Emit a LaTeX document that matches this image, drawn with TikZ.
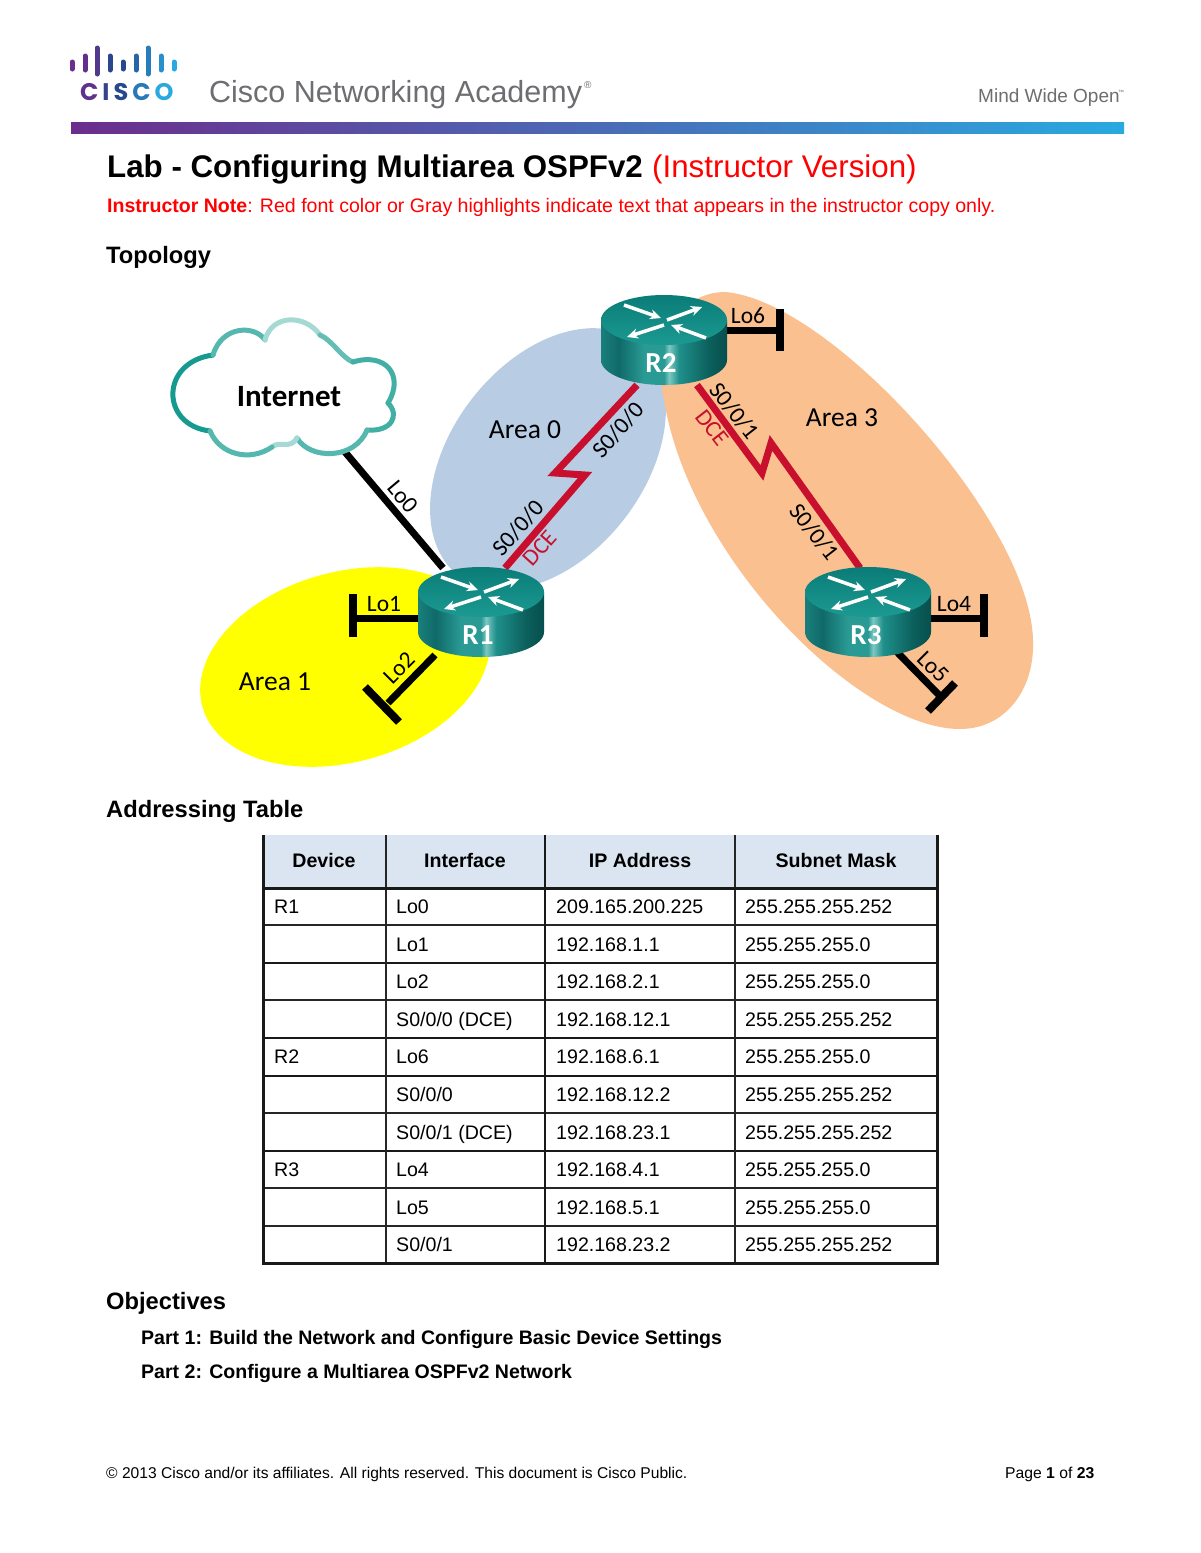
\documentclass[tikz,border=0pt]{standalone}
\usepackage{fontspec}
\setmainfont{Liberation Sans}
\newfontfamily\labelfont{Carlito}
\newfontfamily\logofont{Poppins}
\usetikzlibrary{backgrounds,arrows.meta}
\newcommand{\pxsize}[1]{\fontsize{#1}{#1}\selectfont}
\definecolor{areayellow}{HTML}{FFFF00}
\definecolor{areablue}{HTML}{B8CCE4}
\definecolor{areaorange}{HTML}{FAC090}
\definecolor{serialred}{HTML}{C8102E}
\definecolor{headfill}{HTML}{DBE5F1}
\definecolor{logogray}{HTML}{6D6E71}
\definecolor{barpurple}{HTML}{6C2D8C}
\definecolor{barblue}{HTML}{25488F}
\definecolor{barcyan}{HTML}{29A9E0}
\definecolor{cloudA}{HTML}{159A90}
\definecolor{cloudB}{HTML}{55B8AE}
\definecolor{cloudC}{HTML}{A5D9D3}
\definecolor{rtA}{HTML}{1A7F7C}
\definecolor{rtB}{HTML}{0F6A68}
\definecolor{rtC}{HTML}{2A9A94}
\definecolor{rtD}{HTML}{7CC7C1}
\definecolor{rtE}{HTML}{1F8F8A}
\definecolor{rtF}{HTML}{0B5F5C}
\definecolor{rtG}{HTML}{074F4E}
\definecolor{rtTop}{HTML}{0B7C78}
\definecolor{rtLow}{HTML}{1B9A92}
\pgfdeclarehorizontalshading{routerside}{100bp}{color(0bp)=(rtA);
  color(25bp)=(rtA);color(32bp)=(rtB);color(42bp)=(rtC);color(50bp)=(rtC);
  color(52bp)=(rtD);color(56bp)=(rtE);color(68bp)=(rtF);color(75bp)=(rtG);color(100bp)=(rtG)}
\tikzset{
  every node/.style={inner sep=0pt},
  body/.style={anchor=base west,font=\pxsize{19.6}},
  head/.style={anchor=base,font=\pxsize{19.6}\bfseries},
  section/.style={anchor=base west,font=\pxsize{23.7}\bfseries},
  plabel/.style={font=\labelfont\pxsize{23.5},black},
  arealabel/.style={font=\labelfont\pxsize{27.5}},
  routername/.style={font=\labelfont\pxsize{29}\bfseries,white},
  serial/.style={line width=7pt,serialred,miter limit=10},
  loop/.style={line width=7pt,black},
  loopcap/.style={line width=8pt,black},
  grid/.style={line width=1.5pt,black!85},
  gridheavy/.style={line width=2.6pt,black!90},
  logobar/.style={line width=5pt,line cap=round},
  cloudline/.style={line width=5pt,line cap=round},
  routerarrow/.style={white,line width=3.5pt,-{Stealth[length=11pt,width=10pt]}},
}
\begin{document}
\begin{tikzpicture}[x=1pt,y=-1pt]
\def\routerbody(#1,#2){
  \shade[shading=routerside] (#1-63,#2-42) -- (#1-63,#2-2) arc[start angle=180,end angle=360,x radius=63,y radius=-25] -- (#1+63,#2-42) -- cycle;
  \shade[top color=rtTop,bottom color=rtLow] (#1,#2-42) circle[x radius=63,y radius=25];
  \draw[routerarrow] (#1-40,#2-57) -- (#1-3,#2-44);
  \draw[routerarrow] (#1,#2-37) -- (#1-37,#2-25);
  \draw[routerarrow] (#1+3,#2-42) -- (#1+38,#2-55);
  \draw[routerarrow] (#1+42,#2-24) -- (#1+7,#2-37);
}
\useasboundingbox (0,0) rectangle (1200,1553);
% logo
\draw[logobar,barpurple] (72,62) -- (72,69);
\draw[logobar,barpurple!85!barblue] (85,56) -- (85,70);
\draw[logobar,barpurple!60!barblue] (97,48) -- (97,74);
\draw[logobar,barblue!90!barpurple] (110,56) -- (110,70);
\draw[logobar,barblue] (123,62) -- (123,69);
\draw[logobar,barblue!70!barcyan] (136,56) -- (136,70);
\draw[logobar,barblue!45!barcyan] (148,48) -- (148,74);
\draw[logobar,barblue!25!barcyan] (161,56) -- (161,70);
\draw[logobar,barcyan] (174,62) -- (174,69);
\node[anchor=base west,font=\logofont\pxsize{24}\bfseries] (cisco) at (80,100)
  {\textcolor{barpurple!80!barblue}{C}\hspace{4pt}\textcolor{barblue!80!barpurple}{I}\hspace{4pt}\textcolor{barblue}{S}\hspace{4pt}\textcolor{barblue!50!barcyan}{C}\hspace{4pt}\textcolor{barcyan}{O}};
\node[anchor=base west,font=\pxsize{30.5},logogray] (academy) at (209,102) {Cisco Networking Academy};
\node[anchor=base west,font=\pxsize{10},logogray] (reg) at (584,88) {®};
\node[anchor=base west,font=\pxsize{19},logogray] (mind) at (978,102) {Mind Wide Open};
\node[anchor=base west,font=\pxsize{6},logogray] (tm) at (1118,94) {™};
\shade[left color=barpurple,middle color=barblue,right color=barcyan] (71,122) rectangle (1124,133);
% headings
\node[anchor=base west,font=\pxsize{31.3}\bfseries] (title) at (107,177) {Lab - Configuring Multiarea OSPFv2};
\node[anchor=base west,font=\pxsize{31.3},red] (version) at (652,177) {(Instructor Version)};
\node[body,red,font=\pxsize{19.55}] (note) at (107,212) {\textbf{Instructor Note}: Red font color or Gray highlights indicate text that appears in the instructor copy only.};
\node[section] (topology) at (106,263) {Topology};
\node[section] (addressing) at (106,817) {Addressing Table};
\node[section] (objectives) at (106,1309) {Objectives};
\node[body,font=\pxsize{19.55}\bfseries] (part1) at (141,1344) {Part 1: Build the Network and Configure Basic Device Settings};
\node[body,font=\pxsize{19.55}\bfseries] (part2) at (141,1378) {Part 2: Configure a Multiarea OSPFv2 Network};
\node[body,font=\pxsize{15.6}] (copyright) at (106,1478) {© 2013 Cisco and/or its affiliates. All rights reserved. This document is Cisco Public.};
\node[body,font=\pxsize{15.7}] (page) at (1005,1478) {Page \textbf{1} of \textbf{23}};
% routers
\routerbody(481,634)
\routerbody(664,362)
\routerbody(868,634)
\node[routername] (R1) at (478,635) {R1};
\node[routername] (R2) at (661,363) {R2};
\node[routername] (R3) at (866,635) {R3};
% cloud
\coordinate (c1) at (210,431);
\coordinate (c2) at (213,355);
\coordinate (c3) at (265,340);
\coordinate (c4) at (320,335);
\coordinate (c5) at (353,362);
\coordinate (c6) at (388,403);
\coordinate (c7) at (367,430);
\coordinate (c8) at (297,438);
\coordinate (c9) at (272,447);
\fill[white] (c1) .. controls (160,425) and (160,362) .. (c2) .. controls (222,325) and (255,325) .. (c3)
  .. controls (272,314) and (305,314) .. (c4) .. controls (332,340) and (342,358) .. (c5)
  .. controls (385,352) and (405,375) .. (c6) .. controls (400,415) and (392,432) .. (c7)
  .. controls (355,460) and (310,460) .. (c8) .. controls (290,450) and (280,440) .. (c9)
  .. controls (250,462) and (220,455) .. (c1);
\draw[cloudline,cloudA] (c1) .. controls (160,425) and (160,362) .. (c2);
\draw[cloudline,cloudB] (c2) .. controls (222,325) and (255,325) .. (c3);
\draw[cloudline,cloudC] (c3) .. controls (272,314) and (305,314) .. (c4);
\draw[cloudline,cloudB!80!cloudC] (c4) .. controls (332,340) and (342,358) .. (c5);
\draw[cloudline,cloudB!70!cloudA] (c5) .. controls (385,352) and (405,375) .. (c6);
\draw[cloudline,cloudB!70!cloudA] (c6) .. controls (400,415) and (392,432) .. (c7);
\draw[cloudline,cloudB] (c7) .. controls (355,460) and (310,460) .. (c8);
\draw[cloudline,cloudC] (c8) .. controls (290,450) and (280,440) .. (c9);
\draw[cloudline,cloudB] (c9) .. controls (250,462) and (220,455) .. (c1);
\node[font=\labelfont\pxsize{31}\bfseries] (Internet) at (289,397) {Internet};
% areas and links
\coordinate (k1) at (585,475);
\coordinate (k2) at (555,473);
\coordinate (k3) at (762,473);
\coordinate (k4) at (771,443);
\coordinate (lo1) at (353,618);
\coordinate (lo1a) at (353,594);
\coordinate (lo1b) at (353,637);
\coordinate (lo2) at (388,703);
\coordinate (lo2a) at (365,687);
\coordinate (lo2b) at (399,722);
\coordinate (lo4) at (984,618);
\coordinate (lo4a) at (984,594);
\coordinate (lo4b) at (984,637);
\coordinate (lo5) at (941,697);
\coordinate (lo5a) at (955,683);
\coordinate (lo5b) at (928,711);
\coordinate (lo6) at (780,330);
\coordinate (lo6a) at (780,309);
\coordinate (lo6b) at (780,351);
\begin{scope}[on background layer]
\fill[white] (0,0) rectangle (1200,1553);
\fill[areayellow,rotate around={15.6:(345,667)}] (345,667) circle[x radius=148,y radius=95];
\fill[areablue,rotate around={52.6:(548,459)}] (548,459) circle[x radius=147,y radius=97];
\fill[areaorange] (725,292) .. controls (830,300) and (1030,520) .. (1033,640) .. controls (1035,690) and (1005,729) .. (960,729)
  .. controls (860,729) and (690,560) .. (664,400) .. controls (650,340) and (680,292) .. (725,292);
\draw[loop] ([shift={(56,55)}]Internet.center) -- ([shift={(-35,-67)}]R1.center);
\draw[loop] (lo1 -| R1) -- (lo1);
\draw[loopcap] (lo1a) -- (lo1b);
\draw[loop] ([shift={(-43,20)}]R1.center) -- (lo2);
\draw[loopcap] (lo2a) -- (lo2b);
\draw[loop] (lo4 -| R3) -- (lo4);
\draw[loopcap] (lo4a) -- (lo4b);
\draw[loop] ([shift={(30,16)}]R3.center) -- (lo5);
\draw[loopcap] (lo5a) -- (lo5b);
\draw[loop] (lo6 -| R2) -- (lo6);
\draw[loopcap] (lo6a) -- (lo6b);
\draw[serial] ([shift={(27,-67)}]R1.center) -- (k1) -- (k2) -- ([shift={(-24,22)}]R2.center);
\draw[serial] ([shift={(36,22)}]R2.center) -- (k3) -- (k4) -- ([shift={(-6,-67)}]R3.center);
\end{scope}
% labels
\node[arealabel] (area0) at (525,430) {Area 0};
\node[arealabel] (area1) at (275,682) {Area 1};
\node[arealabel] (area3) at (842,418) {Area 3};
\node[plabel,rotate=-50] (lo0label) at (403,497) {Lo0};
\node[plabel] (lo1label) at (384,604) {Lo1};
\node[plabel,rotate=45] (lo2label) at (399,668) {Lo2};
\node[plabel] (lo4label) at (954,604) {Lo4};
\node[plabel,rotate=-45] (lo5label) at (933,667) {Lo5};
\node[plabel] (lo6label) at (748,316) {Lo6};
\node[plabel,rotate=48] (s1label) at (518,528) {S0/0/0};
\node[plabel,rotate=48,serialred] (dce1) at (540,548) {DCE};
\node[plabel,rotate=48] (s2label) at (618,430) {S0/0/0};
\node[plabel,rotate=-52] (s3label) at (734,411) {S0/0/1};
\node[plabel,rotate=-52,serialred] (dce2) at (712,428) {DCE};
\node[plabel,rotate=-52] (s4label) at (814,532) {S0/0/1};
% table
\fill[headfill] (262,835) rectangle (938,888);
\draw[grid] (262,925) -- (938,925);
\draw[gridheavy] (262,963) -- (938,963);
\draw[grid] (262,1000) -- (938,1000);
\draw[gridheavy] (262,1038) -- (938,1038);
\draw[gridheavy] (262,1076) -- (938,1076);
\draw[grid] (262,1113) -- (938,1113);
\draw[gridheavy] (262,1151) -- (938,1151);
\draw[grid] (262,1188) -- (938,1188);
\draw[grid] (262,1226) -- (938,1226);
\draw[grid] (386,835) -- (386,1264);
\draw[gridheavy] (545,835) -- (545,1264);
\draw[grid] (735,835) -- (735,1264);
\draw[line width=3pt,black!90] (263,835) -- (263,1263) -- (937.5,1263) -- (937.5,835);
\draw[line width=3pt,black!90] (262,888) -- (938,888);
\node[head] (hdevice) at (324,867) {Device};
\node[head] (hinterface) at (465,867) {Interface};
\node[head] (hip) at (640,867) {IP Address};
\node[head] (hmask) at (836,867) {Subnet Mask};
\node[body] (d1) at (274,913) {R1};
\node[body] (i1) at (396,913) {Lo0};
\node[body] (a1) at (556,913) {209.165.200.225};
\node[body] (m1) at (745,913) {255.255.255.252};
\node[body] (i2) at (396,951) {Lo1};
\node[body] (a2) at (556,951) {192.168.1.1};
\node[body] (m2) at (745,951) {255.255.255.0};
\node[body] (i3) at (396,988) {Lo2};
\node[body] (a3) at (556,988) {192.168.2.1};
\node[body] (m3) at (745,988) {255.255.255.0};
\node[body] (i4) at (396,1026) {S0/0/0 (DCE)};
\node[body] (a4) at (556,1026) {192.168.12.1};
\node[body] (m4) at (745,1026) {255.255.255.252};
\node[body] (d5) at (274,1063) {R2};
\node[body] (i5) at (396,1063) {Lo6};
\node[body] (a5) at (556,1063) {192.168.6.1};
\node[body] (m5) at (745,1063) {255.255.255.0};
\node[body] (i6) at (396,1101) {S0/0/0};
\node[body] (a6) at (556,1101) {192.168.12.2};
\node[body] (m6) at (745,1101) {255.255.255.252};
\node[body] (i7) at (396,1139) {S0/0/1 (DCE)};
\node[body] (a7) at (556,1139) {192.168.23.1};
\node[body] (m7) at (745,1139) {255.255.255.252};
\node[body] (d8) at (274,1176) {R3};
\node[body] (i8) at (396,1176) {Lo4};
\node[body] (a8) at (556,1176) {192.168.4.1};
\node[body] (m8) at (745,1176) {255.255.255.0};
\node[body] (i9) at (396,1214) {Lo5};
\node[body] (a9) at (556,1214) {192.168.5.1};
\node[body] (m9) at (745,1214) {255.255.255.0};
\node[body] (i10) at (396,1251) {S0/0/1};
\node[body] (a10) at (556,1251) {192.168.23.2};
\node[body] (m10) at (745,1251) {255.255.255.252};
\end{tikzpicture}
\end{document}
